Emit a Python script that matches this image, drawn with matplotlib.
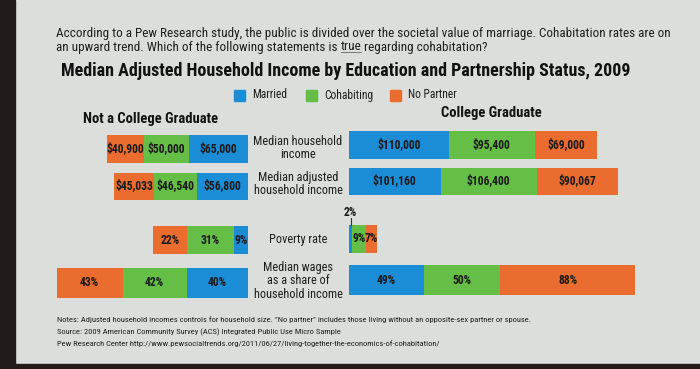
import matplotlib.pyplot as plt
from matplotlib.patches import Rectangle

# partnership status, ordered from the centre outward
status = ['Married', 'Cohabiting', 'No Partner']
colors = ['#1b8cd6', '#65be45', '#ea6c2e']

row_labels = ['Median household\nincome', 'Median adjusted\nhousehold income',
              'Poverty rate', 'Median wages\nas a share of\nhousehold income']

# not a college graduate (left side)
ng_income = [65000, 50000, 40900]
ng_adj_income = [56800, 46540, 45033]
ng_poverty = [9, 31, 22]
ng_wages = [40, 42, 43]

# college graduate (right side)
cg_income = [110000, 95400, 69000]
cg_adj_income = [101160, 106400, 90067]
cg_poverty = [2, 9, 7]
cg_wages = [49, 50, 88]

FONT = ['Roboto Condensed', 'Liberation Sans']
TXT = '#1e1e1e'

fig = plt.figure(figsize=(7, 3.69), dpi=100)
fig.patch.set_facecolor('#dcdedc')
ax = fig.add_axes([0, 0, 1, 1])
ax.set_xlim(0, 700)
ax.set_ylim(369, 0)
ax.axis('off')

# photo edges
ax.add_patch(Rectangle((0, 0), 15, 369, color='#211c1a', zorder=5))
ax.add_patch(Rectangle((0, 364), 700, 5, color='#211c1a', zorder=5))

ax.text(56, 33, 'According to a Pew Research study, the public is divided over the societal '
        'value of marriage. Cohabitation rates are on', family=FONT, fontsize=9.5,
        color=TXT, va='center')
part = ax.text(56, 47, 'an upward trend. Which of the following statements is ',
               family=FONT, fontsize=9.5, color=TXT, va='center')
r = fig.canvas.get_renderer()
inv = ax.transData.inverted()
x1 = inv.transform(part.get_window_extent(r))[1][0]
word = ax.text(x1, 47, 'true', family=FONT, fontsize=9.5, color=TXT, va='center')
x2 = inv.transform(word.get_window_extent(r))[1][0]
ax.plot([x1, x2], [51.5, 51.5], color='#666666', lw=0.6)
ax.text(x2, 47, ' regarding cohabitation?', family=FONT, fontsize=9.5, color=TXT, va='center')

ax.text(61, 71, 'Median Adjusted Household Income by Education and Partnership Status, 2009',
        family=FONT, fontsize=13, weight='bold', color='#111111', va='center')

# legend
lx = [234, 306, 390]
for x, c, s in zip(lx, colors, status):
    ax.add_patch(Rectangle((x, 90), 11, 11, color=c))
    ax.text(x + 18, 95, s, family=FONT, fontsize=8.3, color=TXT, va='center')

ax.text(83, 119, 'Not a College Graduate', family=FONT, fontsize=10.5, weight='bold',
        color='#111111', va='center')
ax.text(441, 113, 'College Graduate', family=FONT, fontsize=10.5, weight='bold',
        color='#111111', va='center')

k_dollar = 0.000905
k_pct = 1.53
left_end = 248
right_start = 349

left_rows = [ng_income, ng_adj_income, ng_poverty, ng_wages]
right_rows = [cg_income, cg_adj_income, cg_poverty, cg_wages]
scales = [k_dollar, k_dollar, k_pct, k_pct]
y_left = [149, 186, 240, 283]
y_right = [145, 181, 239, 280]
heights = [28, 27, 28, 30]
label_y = [148, 184, 240, 281]


def fmt(v, k):
    return f'${v:,}' if k == k_dollar else f'{v}%'


for vals, k, y, h in zip(left_rows, scales, y_left, heights):
    edge = left_end
    for v, c in zip(vals, colors):
        w = v * k
        ax.barh(y, w, left=edge - w, height=h, color=c)
        ax.text(edge - w / 2, y, fmt(v, k), family=FONT, fontsize=8.4, weight='bold',
                color='#1a1a1a', ha='center', va='center')
        edge -= w

for vals, k, y, h in zip(right_rows, scales, y_right, heights):
    edge = right_start
    for v, c in zip(vals, colors):
        w = v * k
        ax.barh(y, w, left=edge, height=h, color=c)
        if v * k < 5:
            ax.plot([edge + w / 2] * 2, [y - h / 2, y - h / 2 - 7], color='#333333', lw=0.8)
            ax.text(edge + w / 2, y - h / 2 - 13, fmt(v, k), family=FONT, fontsize=8.4,
                    weight='bold', color='#1a1a1a', ha='center', va='center')
        else:
            ax.text(edge + w / 2, y, fmt(v, k), family=FONT, fontsize=8.4, weight='bold',
                    color='#1a1a1a', ha='center', va='center')
        edge += w

for lab, y in zip(row_labels, label_y):
    ax.text(298, y, lab, family=FONT, fontsize=8.8, color=TXT,
            ha='center', va='center', linespacing=1.0)

notes = ['Notes: Adjusted household incomes controls for household size. "No partner" includes '
         'those living without an opposite-sex partner or spouse.',
         'Source: 2009 American Community Survey (ACS) Integrated Public Use Micro Sample',
         'Pew Research Center http://www.pewsocialtrends.org/2011/06/27/living-together-the-'
         'economics-of-cohabitation/']
for i, n in enumerate(notes):
    ax.text(57, 320 + i * 12, n, family=FONT, fontsize=6.1, color=TXT, va='center')

fig.savefig('out.png', dpi=100, facecolor=fig.get_facecolor())
